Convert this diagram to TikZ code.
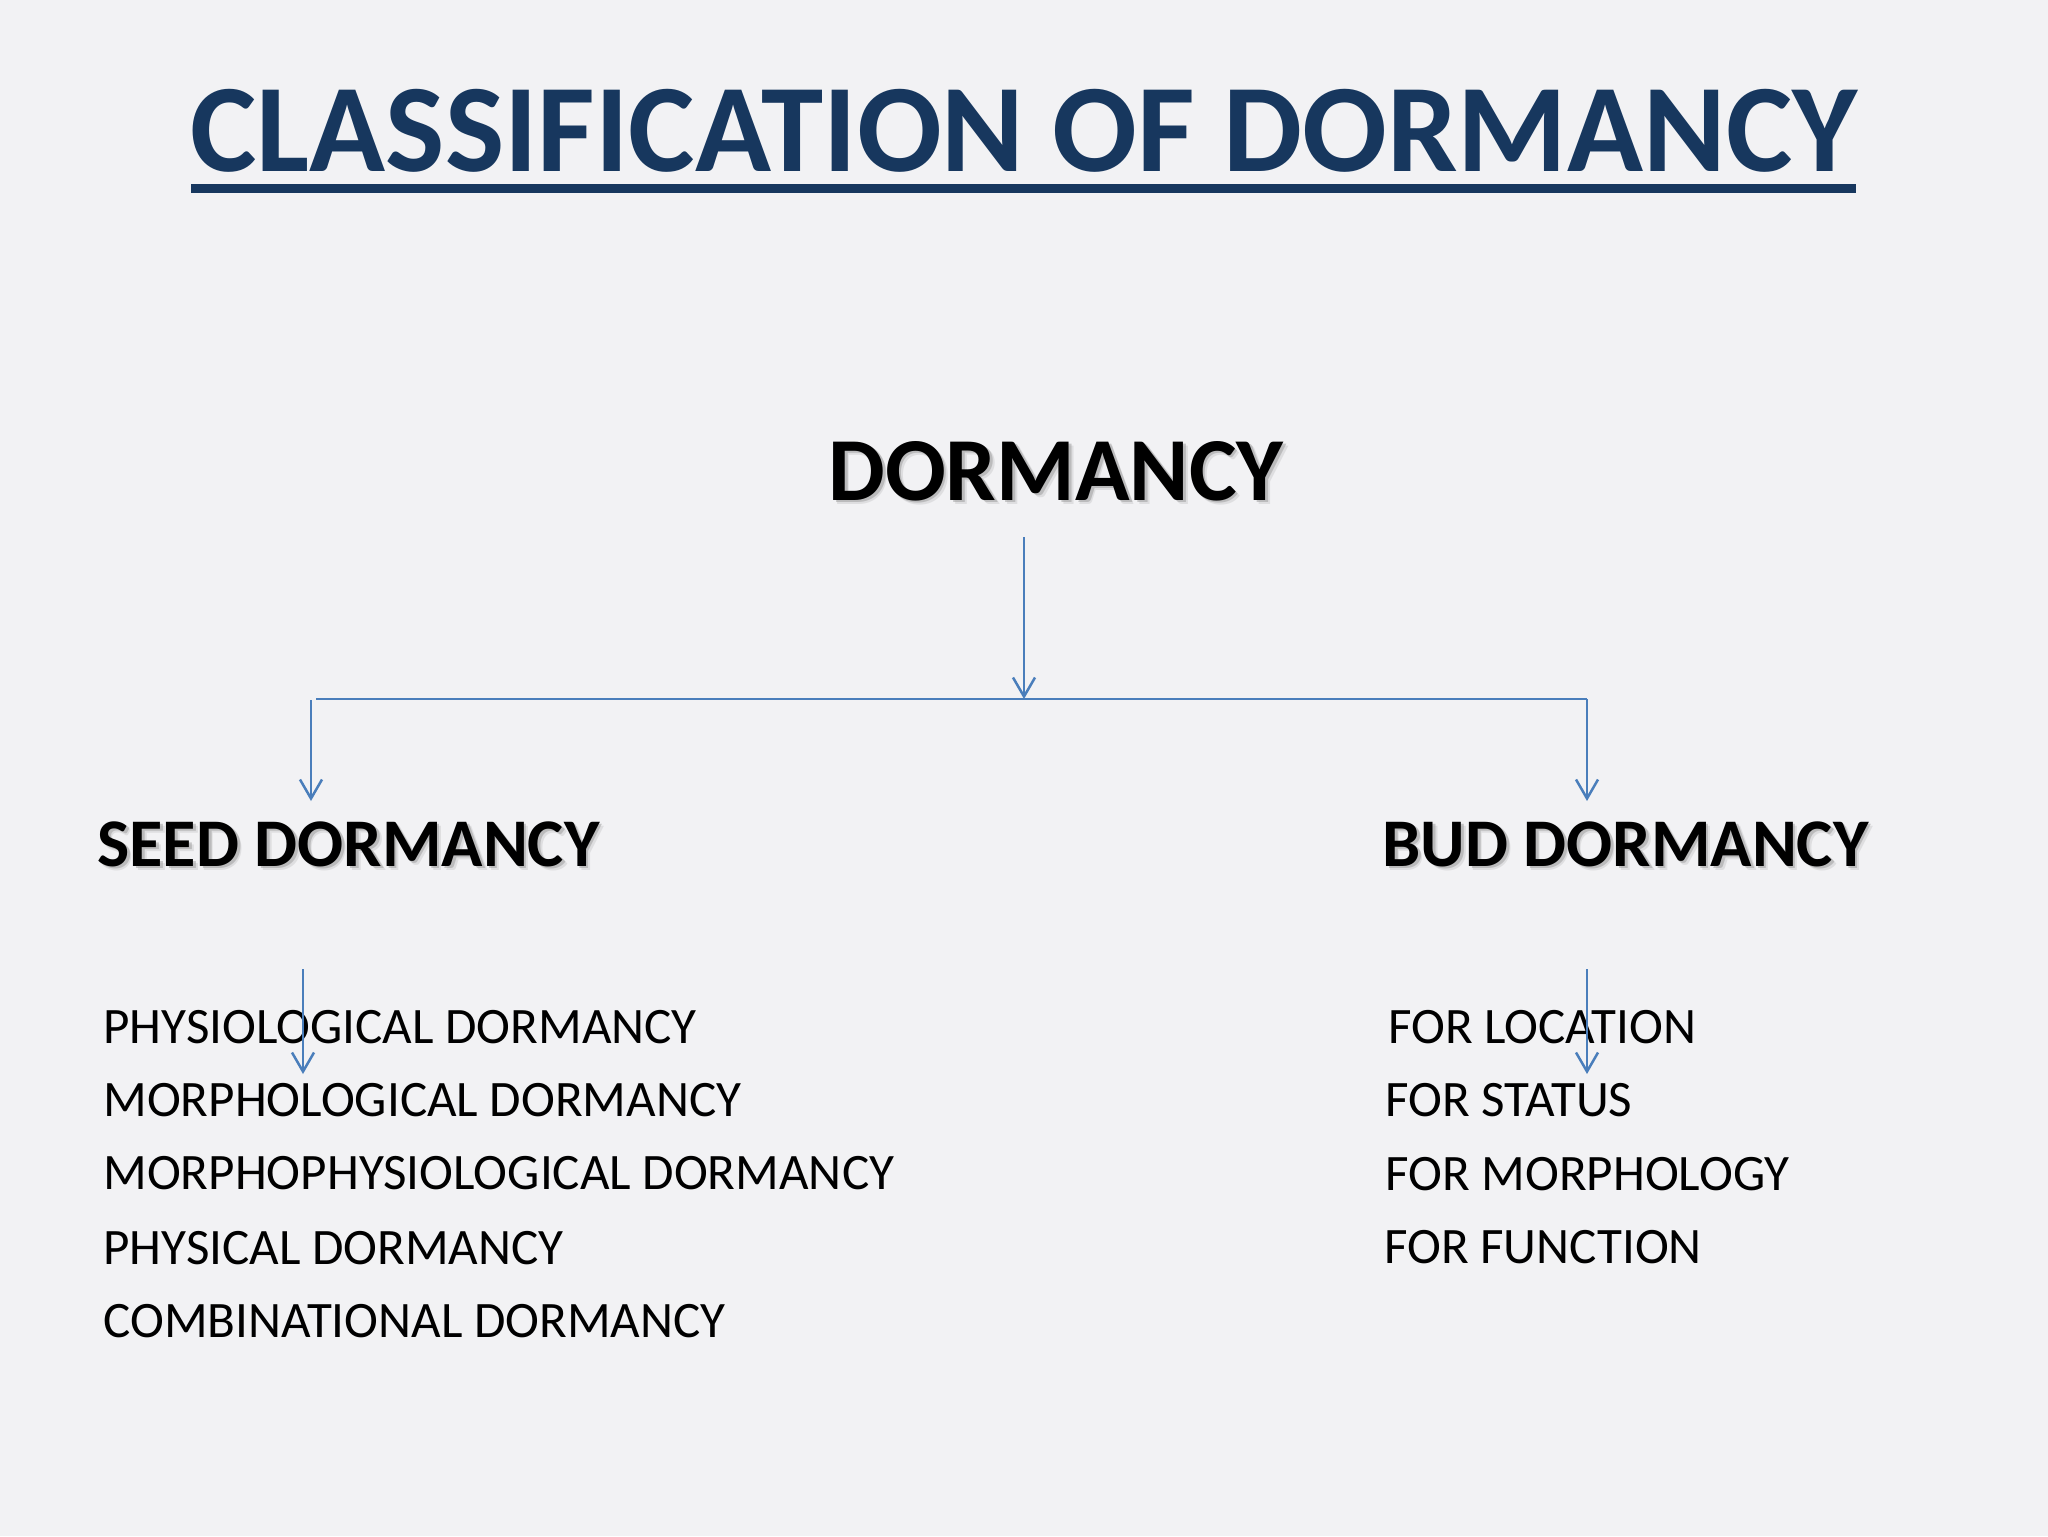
\documentclass[tikz,border=0pt]{standalone}
\usepackage{fontspec}
\setmainfont{Carlito}
\usetikzlibrary{arrows.meta}
\definecolor{bg}{RGB}{242,242,244}
\definecolor{navy}{RGB}{23,55,94}
\definecolor{lnblue}{RGB}{74,126,187}
\tikzset{
  conn/.style={draw=lnblue, line width=1.25pt},
  arr/.style={conn, -{Straight Barb[length=9.5pt,width=11pt,line width=1.25pt]}},
  txt/.style={anchor=base west, inner sep=0pt, text=black},
  head/.style={txt, font=\bfseries\fontsize{34.1}{36}\selectfont},
  item/.style={txt, font=\fontsize{25.55}{28}\selectfont},
  shad/.style={text=black!40, opacity=0.5, xshift=1.4pt, yshift=-1.4pt},
  shadb/.style={text=black!30, opacity=0.3, xshift=2.2pt, yshift=-2.2pt},
}
\newcommand{\shadnode}[4]{%
  \node[#1, shadb] at (#3) {#4};
  \node[#1, shad] at (#3) {#4};
  \node[#1] (#2) at (#3) {#4};}
\begin{document}
\begin{tikzpicture}[x=0.5pt,y=-0.5pt]
\fill[bg] (0,0) rectangle (2048,1536);
\useasboundingbox (0,0) rectangle (2048,1536);
% title
\node[anchor=base, inner sep=0pt, text=navy, font=\bfseries\fontsize{62.7}{70}\selectfont] (title) at (1024,171) {CLASSIFICATION OF DORMANCY};
\draw[navy, line width=4.5pt] (191,188.5) -- (1856,188.5);
% root
\shadnode{head, font=\bfseries\fontsize{45}{48}\selectfont}{dorm}{828,500}{DORMANCY}
% headings
\shadnode{head}{seed}{97,866}{SEED DORMANCY}
\shadnode{head}{bud}{1382,866}{BUD DORMANCY}
% connectors
\coordinate (a0) at (1024,537);
\coordinate (j) at (1024,699);
\coordinate (hl) at (316,699);
\coordinate (hr) at (1587,699);
\coordinate (sl0) at (311,700);
\coordinate (sl1) at (311,801);
\coordinate (br1) at (1587,801);
\draw[arr] (a0) -- (j);
\draw[conn] (hl) -- (hr);
\draw[arr] (hr) -- (br1);
\draw[arr] (sl0) -- (sl1);
% seed list
\node[item] (s1) at (103,1043) {PHYSIOLOGICAL DORMANCY};
\node[item] (s2) at (103,1116) {MORPHOLOGICAL DORMANCY};
\node[item] (s3) at (103,1189) {MORPHOPHYSIOLOGICAL DORMANCY};
\node[item] (s4) at (103,1264) {PHYSICAL DORMANCY};
\node[item] (s5) at (103,1337) {COMBINATIONAL DORMANCY};
% bud list
\node[item] (b1) at (1388,1043) {FOR LOCATION};
\node[item] (b2) at (1385,1116) {FOR STATUS};
\node[item] (b3) at (1385,1190) {FOR MORPHOLOGY};
\node[item] (b4) at (1384,1263) {FOR FUNCTION};
% small arrows
\coordinate (p0) at (303,969);
\coordinate (p1) at (303,1074);
\coordinate (q0) at (1587,969);
\coordinate (q1) at (1587,1074);
\draw[arr] (p0) -- (p1);
\draw[arr] (q0) -- (q1);
\end{tikzpicture}
\end{document}
